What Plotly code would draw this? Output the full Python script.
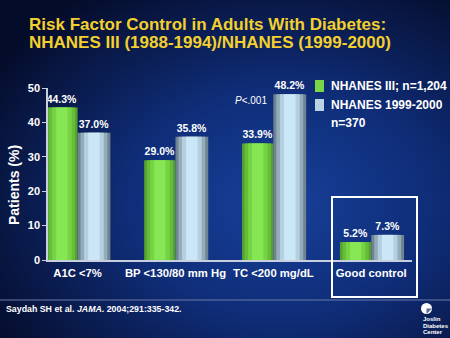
import base64
import plotly.graph_objects as go

# ---------------- data ----------------
categories = ["A1C <7%", "BP <130/80 mm Hg", "TC <200 mg/dL", "Good control"]
nhanes_iii = [44.3, 29.0, 33.9, 5.2]
nhanes_9900 = [37.0, 35.8, 48.2, 7.3]
series_names = ["NHANES III; n=1,204", "NHANES 1999-2000", "n=370"]
y_ticks = [0, 10, 20, 30, 40, 50]

W, H = 450, 338
FONT = "Arial, Liberation Sans, Helvetica, sans-serif"


def px(x):
    return x / W


def py(y):
    return 1 - y / H


x_idx = list(range(len(categories)))

fig = go.Figure()

# layered bars to imitate a cylindrical shading
green_layers = [(1.0, "#55a02e"), (0.84, "#66be38"), (0.62, "#76d444"), (0.36, "#86e654")]
blue_layers = [(1.0, "#6f8390"), (0.82, "#93abba"), (0.6, "#b3cfe0"), (0.35, "#cbe7f7")]


def add_series(vals, layers, offset, width):
    for i, (f, col) in enumerate(layers):
        w = width * f
        o = offset + (width - w) / 2
        fig.add_trace(go.Bar(
            x=x_idx, y=vals, width=[w] * len(vals), offset=[o] * len(vals),
            marker=dict(color=col, line=dict(width=0)),
            text=[f"{v:.1f}%" for v in vals] if i == 0 else None,
            textposition="outside" if i == 0 else "none",
            textfont=dict(family=FONT, size=10.5, color="white", weight="bold"),
            cliponaxis=False, hoverinfo="skip", showlegend=False,
        ))


add_series(nhanes_iii, green_layers, -0.32, 0.32)
add_series(nhanes_9900, blue_layers, 0.0, 0.335)

# background radial gradient (SVG image)
svg = """<svg xmlns='http://www.w3.org/2000/svg' width='450' height='338'>
<defs><radialGradient id='g' cx='0.62' cy='0.6' r='0.75'>
<stop offset='0' stop-color='#17409a'/>
<stop offset='0.45' stop-color='#0f2d78'/>
<stop offset='1' stop-color='#050c2a'/>
</radialGradient></defs>
<rect width='450' height='338' fill='url(#g)'/></svg>"""
src = "data:image/svg+xml;base64," + base64.b64encode(svg.encode()).decode()

fig.update_layout(
    width=W, height=H, autosize=False,
    margin=dict(l=0, r=0, t=0, b=0, pad=0),
    paper_bgcolor="#0b1d55", plot_bgcolor="rgba(0,0,0,0)",
    barmode="overlay",
    images=[dict(source=src, xref="paper", yref="paper", x=0, y=1,
                 sizex=1, sizey=1, sizing="stretch", layer="below",
                 xanchor="left", yanchor="top")],
    xaxis=dict(
        domain=[px(48), px(412)], range=[-0.302, 3.416],
        tickmode="array", tickvals=x_idx,
        ticktext=[c.replace("<", "&lt;") for c in categories],
        tickangle=0, automargin=False, ticklabelstandoff=2,
        showline=True, linecolor="#c8d0e0", linewidth=1.5,
        ticks="", showgrid=False, zeroline=False,
        tickfont=dict(family=FONT, size=11.3, color="white", weight="bold"),
    ),
    yaxis=dict(
        domain=[py(260), py(88)], range=[0, 50], automargin=False,
        tickvals=y_ticks, ticks="outside", ticklen=4, tickcolor="#c8d0e0",
        showline=True, linecolor="#c8d0e0", linewidth=1.5,
        showgrid=False, zeroline=False,
        tickfont=dict(family=FONT, size=11, color="white", weight="bold"),
    ),
    showlegend=False,
)

ann = []
# title
title_lines = ["Risk Factor Control in Adults With Diabetes:",
               "NHANES III (1988-1994)/NHANES (1999-2000)"]
for t, yc in zip(title_lines, [24, 43]):
    ann.append(dict(text=f"<b>{t}</b>", x=px(27), y=py(yc), xref="paper",
                    yref="paper", xanchor="left", yanchor="middle",
                    showarrow=False,
                    font=dict(family=FONT, size=17, color="#f3d02e")))
# y-axis title
ann.append(dict(text="<b>Patients (%)</b>", x=px(14), y=py(185), xref="paper",
                yref="paper", textangle=-90, showarrow=False,
                xanchor="center", yanchor="middle",
                font=dict(family=FONT, size=14, color="white")))
# legend
for name, yc in zip(series_names, [86, 105, 123]):
    ann.append(dict(text=f"<b>{name}</b>", x=px(329), y=py(yc), xref="paper",
                    yref="paper", xanchor="left", yanchor="middle",
                    showarrow=False,
                    font=dict(family=FONT, size=12, color="white")))
# P value
ann.append(dict(text="<i>P</i>&lt;.001", x=2, y=46.5, xref="x", yref="y",
                xanchor="right", yanchor="middle", xshift=-4, showarrow=False,
                font=dict(family=FONT, size=10, color="white")))
# citation
ann.append(dict(text="<b>Saydah SH et al. <i>JAMA</i>. 2004;291:335-342.</b>",
                x=px(4), y=py(309), xref="paper", yref="paper", xanchor="left",
                yanchor="middle", showarrow=False,
                font=dict(family=FONT, size=8.8, color="white")))
# logo text
for t, yc in zip(["Joslin", "Diabetes", "Center"], [319, 325.5, 332]):
    ann.append(dict(text=f"<b>{t}</b>", x=px(421), y=py(yc), xref="paper",
                    yref="paper", xanchor="left", yanchor="middle",
                    showarrow=False,
                    font=dict(family=FONT, size=6, color="white")))
fig.update_layout(annotations=ann)

shapes = [
    # legend swatches
    dict(type="rect", xref="paper", yref="paper", x0=px(315), x1=px(324),
         y0=py(92), y1=py(80), fillcolor="#7ad846", line=dict(width=0)),
    dict(type="rect", xref="paper", yref="paper", x0=px(315), x1=px(324),
         y0=py(111), y1=py(99), fillcolor="#b8d4e4", line=dict(width=0)),
    # good-control box
    dict(type="rect", xref="paper", yref="paper", x0=px(332), x1=px(417),
         y0=py(297), y1=py(197), line=dict(color="white", width=2)),
    # separator
    dict(type="line", xref="paper", yref="paper", x0=0, x1=1,
         y0=py(300), y1=py(300), line=dict(color="#6a7ba8", width=1)),
    # logo circle
    dict(type="circle", xref="paper", yref="paper", x0=px(421), x1=px(432),
         y0=py(314), y1=py(303), fillcolor="white", line=dict(width=0)),
    dict(type="path", xref="paper", yref="paper",
         path=f"M {px(426.5)} {py(308.5)} L {px(432)} {py(308.5)} L {px(426.5)} {py(314)} Z",
         fillcolor="#5b6c94", line=dict(width=0)),
]
fig.update_layout(shapes=shapes)

fig.write_html("out.html")
